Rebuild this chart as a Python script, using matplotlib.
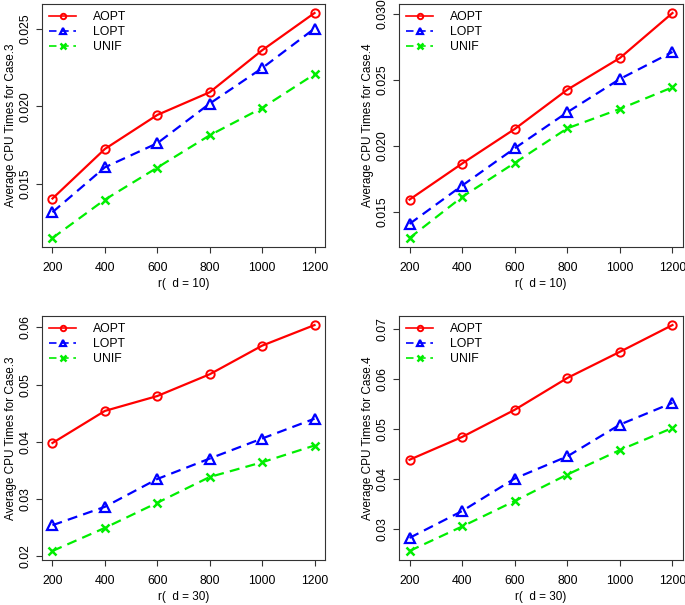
import matplotlib
matplotlib.use("Agg")
import matplotlib.pyplot as plt
from matplotlib.ticker import FixedLocator, FormatStrFormatter

plt.rcParams['font.family'] = ['Liberation Sans', 'DejaVu Sans']

r = [200, 400, 600, 800, 1000, 1200]

# case 3, d=10
aopt_c3_d10 = [0.01406, 0.01725, 0.01944, 0.0209, 0.0236, 0.0260]
lopt_c3_d10 = [0.01318, 0.01607, 0.01762, 0.02017, 0.02245, 0.0250]
unif_c3_d10 = [0.01152, 0.01399, 0.01605, 0.01813, 0.01989, 0.02206]

# case 4, d=10
aopt_c4_d10 = [0.01591, 0.01864, 0.02126, 0.02424, 0.02664, 0.03005]
lopt_c4_d10 = [0.01407, 0.01697, 0.0198, 0.02253, 0.02505, 0.0271]
unif_c4_d10 = [0.0130, 0.01611, 0.01869, 0.02131, 0.02278, 0.02442]

# case 3, d=30
aopt_c3_d30 = [0.0398, 0.0454, 0.0480, 0.0518, 0.0568, 0.0604]
lopt_c3_d30 = [0.02544, 0.02865, 0.03351, 0.03708, 0.04058, 0.04404]
unif_c3_d30 = [0.02094, 0.02497, 0.02936, 0.03386, 0.03643, 0.03936]

# case 4, d=30
aopt_c4_d30 = [0.04383, 0.04839, 0.05383, 0.0602, 0.06544, 0.0708]
lopt_c4_d30 = [0.02819, 0.03356, 0.04007, 0.0445, 0.05087, 0.05523]
unif_c4_d30 = [0.02557, 0.03047, 0.03557, 0.04087, 0.04577, 0.0502]

yticks_c3_d10 = [0.015, 0.020, 0.025]
yticks_c4_d10 = [0.015, 0.020, 0.025, 0.030]
yticks_c3_d30 = [0.02, 0.03, 0.04, 0.05, 0.06]
yticks_c4_d30 = [0.03, 0.04, 0.05, 0.06, 0.07]

W, H = 685, 605
fig = plt.figure(figsize=(W / 100, H / 100), dpi=100)


def box(x0, y0, x1, y1):
    return [x0 / W, 1 - y1 / H, (x1 - x0) / W, (y1 - y0) / H]


def panel(rect, a, l, u, yt, fmt, ylab, xlab):
    ax = fig.add_axes(rect)
    ax.plot(r, a, color='#ff0000', lw=1.6, marker='o', ms=6, mfc='none',
            mew=1.4, label='AOPT')
    ax.plot(r, l, color='#0000ff', lw=1.6, ls=(0, (4.5, 2.8)), marker='^', ms=7,
            mfc='none', mew=1.6, label='LOPT')
    ax.plot(r, u, color='#00ee00', lw=1.6, ls=(0, (4.5, 2.8)), marker='x', ms=6,
            mew=1.8, label='UNIF')
    ax.margins(0.04)
    ax.set_xticks(r)
    ax.yaxis.set_major_locator(FixedLocator(yt))
    ax.yaxis.set_major_formatter(FormatStrFormatter(fmt))
    for lbl in ax.get_yticklabels():
        lbl.set_rotation(90)
        lbl.set_va('center')
    ax.tick_params(labelsize=8.8, length=4, width=0.8, color='#333333')
    ax.tick_params(axis='x', pad=7)
    for s in ax.spines.values():
        s.set_linewidth(0.8)
        s.set_color('#333333')
    ax.set_ylabel(ylab, fontsize=8.5, labelpad=2)
    ax.set_xlabel(xlab, fontsize=8.5, labelpad=3)
    leg = ax.legend(loc='upper left', frameon=False, fontsize=8.8,
                    handlelength=2.2, markerscale=0.65, borderaxespad=0.2,
                    labelspacing=0.25, handletextpad=1.4)
    for h in leg.get_lines():
        h.set_linewidth(1.2)
    return ax


panel(box(42, 4, 325, 247), aopt_c3_d10, lopt_c3_d10, unif_c3_d10,
      yticks_c3_d10, '%.3f', 'Average CPU Times for Case.3', 'r(  d = 10)')
panel(box(399, 4, 683, 247), aopt_c4_d10, lopt_c4_d10, unif_c4_d10,
      yticks_c4_d10, '%.3f', 'Average CPU Times for Case.4', 'r(  d = 10)')
panel(box(42, 316, 325, 560), aopt_c3_d30, lopt_c3_d30, unif_c3_d30,
      yticks_c3_d30, '%.2f', 'Average CPU Times for Case.3', 'r(  d = 30)')
panel(box(399, 316, 683, 560), aopt_c4_d30, lopt_c4_d30, unif_c4_d30,
      yticks_c4_d30, '%.2f', 'Average CPU Times for Case.4', 'r(  d = 30)')

fig.savefig('out.png', dpi=100)
